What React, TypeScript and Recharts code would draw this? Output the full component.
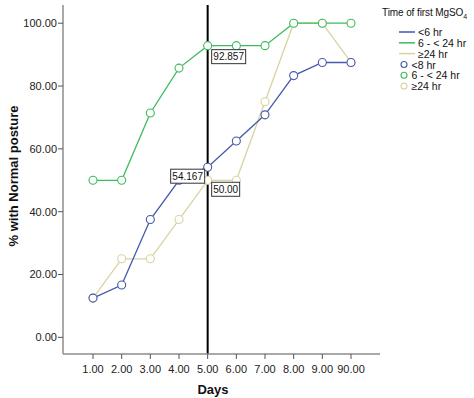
import { LineChart, Line, XAxis, YAxis, ReferenceLine, LabelList } from "recharts"

const days = ["1.00", "2.00", "3.00", "4.00", "5.00", "6.00", "7.00", "8.00", "9.00", "90.00"]
const under6 = [12.5, 16.667, 37.5, 50, 54.167, 62.5, 70.833, 83.333, 87.5, 87.5]
const sixTo24 = [50, 50, 71.429, 85.714, 92.857, 92.857, 92.857, 100, 100, 100]
const over24 = [12.5, 25, 25, 37.5, 50, 50, 75, 100, 100, 87.5]
const yTicks = [0, 20, 40, 60, 80, 100]
const markerDay = "5.00"

const lineNames = ["<6 hr", "6 - < 24 hr", "\u226524 hr"]
const dotNames = ["<8 hr", "6 - < 24 hr", "\u226524 hr"]
const colors = ["#4659ab", "#3dbb5c", "#d9d3a3"]

const data = days.map((d, i) => ({
  day: d,
  under6: under6[i],
  sixTo24: sixTo24[i],
  over24: over24[i],
}))

const font = "Arial, 'Liberation Sans', sans-serif"
const axisGrey = "#8c8c8c"
const markerIdx = days.indexOf(markerDay)

// little boxed value label next to the point on the marker day
function boxLabel(text: string, dx: number, dy: number, w: number) {
  return (props: any) => {
    if (props.index !== markerIdx) return null
    const x = Number(props.x) + dx
    const y = Number(props.y) + dy
    return (
      <g>
        <rect x={x} y={y} width={w} height={14} fill="#fff" stroke="#333" strokeWidth={1} />
        <text x={x + w / 2} y={y + 10.5} textAnchor="middle" fontSize={10} fontFamily={font} fill="#111">
          {text}
        </text>
      </g>
    )
  }
}

function LegendBox() {
  return (
    <div style={{ position: "absolute", left: 382, top: 7, fontFamily: font, fontSize: 10, color: "#111" }}>
      <div style={{ whiteSpace: "nowrap", letterSpacing: -0.1 }}>
        Time of first MgSO<sub style={{ fontSize: 7 }}>4</sub>
      </div>
      <svg width={92} height={82} style={{ display: "block", marginTop: 0 }}>
        {lineNames.map((n, i) => (
          <g key={"l" + i}>
            <line x1={17} x2={33} y1={12 + i * 10.8} y2={12 + i * 10.8} stroke={colors[i]} strokeWidth={1.5} />
            <text x={36} y={16 + i * 10.8} fontSize={10.5} fontFamily={font} fill="#111">{n}</text>
          </g>
        ))}
        {dotNames.map((n, i) => (
          <g key={"d" + i}>
            <circle cx={22} cy={44.5 + i * 10.8} r={3} fill="#fff" stroke={colors[i]} strokeWidth={1.1} />
            <text x={29.5} y={48.5 + i * 10.8} fontSize={10.5} fontFamily={font} fill="#111">{n}</text>
          </g>
        ))}
      </svg>
    </div>
  )
}

export default function App() {
  const tick = { fontSize: 11, fontFamily: font, fill: "#222" }
  return (
    <div style={{ position: "absolute", left: 0, top: 0, width: 474, height: 398, background: "#fff" }}>
      <LineChart width={474} height={398} data={data} margin={{ top: 5, right: 94, bottom: 0, left: 0 }}>
        <XAxis
          dataKey="day"
          height={44}
          padding={{ left: 30, right: 29 }}
          interval={0}
          tick={tick}
          tickSize={5}
          tickMargin={6}
          axisLine={{ stroke: axisGrey, strokeWidth: 1.5 }}
          tickLine={{ stroke: "#555" }}
          label={{
            content: () => (
              <text x={213} y={394} textAnchor="middle" fontSize={13} fontWeight="bold" fontFamily={font} fill="#111">
                Days
              </text>
            ),
          }}
        />
        <XAxis
          xAxisId="top"
          dataKey="day"
          orientation="top"
          height={0}
          tick={false}
          tickLine={false}
          axisLine={{ stroke: axisGrey, strokeWidth: 1.5 }}
        />
        <YAxis
          width={63}
          domain={[-5.3, 105.8]}
          ticks={yTicks}
          tickFormatter={(v: number) => v.toFixed(2)}
          tick={tick}
          tickSize={5}
          tickMargin={1}
          axisLine={{ stroke: axisGrey, strokeWidth: 1.5 }}
          tickLine={{ stroke: "#555" }}
          label={{
            content: () => (
              <text
                x={18}
                y={176}
                transform="rotate(-90 18 176)"
                textAnchor="middle"
                fontSize={13}
                fontWeight="bold"
                fontFamily={font}
                fill="#111"
              >
                % with Normal posture
              </text>
            ),
          }}
        />
        <YAxis
          yAxisId="right"
          orientation="right"
          width={0}
          domain={[-5.3, 105.8]}
          tick={false}
          tickLine={false}
          axisLine={{ stroke: axisGrey, strokeWidth: 1.5 }}
        />
        <Line
          dataKey="over24"
          stroke={colors[2]}
          strokeWidth={1.3}
          dot={{ r: 4, fill: "#fff", stroke: colors[2], strokeWidth: 1.1 }}
          isAnimationActive={false}
        >
          <LabelList dataKey="over24" content={boxLabel("50.00", 4, 2, 28)} />
        </Line>
        <Line
          dataKey="sixTo24"
          stroke={colors[1]}
          strokeWidth={1.3}
          dot={{ r: 4, fill: "#fff", stroke: colors[1], strokeWidth: 1.1 }}
          isAnimationActive={false}
        >
          <LabelList dataKey="sixTo24" content={boxLabel("92.857", 4, 4, 34)} />
        </Line>
        <Line
          dataKey="under6"
          stroke={colors[0]}
          strokeWidth={1.3}
          dot={{ r: 4, fill: "#fff", stroke: colors[0], strokeWidth: 1.1 }}
          isAnimationActive={false}
        >
          <LabelList dataKey="under6" content={boxLabel("54.167", -37, 2, 34)} />
        </Line>
        <ReferenceLine x={markerDay} stroke="#000" strokeWidth={2} />
      </LineChart>
      <LegendBox />
    </div>
  )
}
